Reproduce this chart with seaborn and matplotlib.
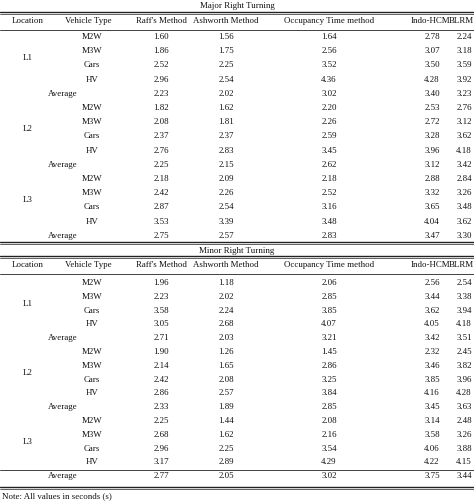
import matplotlib
matplotlib.use("Agg")
import matplotlib.pyplot as plt
import seaborn as sns

sns.set_style("white")
plt.rcParams['font.family'] = ['Liberation Serif', 'DejaVu Serif']

headers = ["Location", "Vehicle Type", "Raff's Method", "Ashworth Method", "Occupancy Time method", "Indo-HCM", "BLRM"]
locations = ["L1", "L2", "L3"]
vehicles = ["M2W", "M3W", "Cars", "HV"]

major_raff = [1.60, 1.86, 2.52, 2.96, 2.23, 1.82, 2.08, 2.37, 2.76, 2.25, 2.18, 2.42, 2.87, 3.53, 2.75]
major_ash = [1.56, 1.75, 2.25, 2.54, 2.02, 1.62, 1.81, 2.37, 2.83, 2.15, 2.09, 2.26, 2.54, 3.39, 2.57]
major_occ = [1.64, 2.56, 3.52, 4.36, 3.02, 2.20, 2.26, 2.59, 3.45, 2.62, 2.18, 2.52, 3.16, 3.48, 2.83]
major_hcm = [2.78, 3.07, 3.50, 4.28, 3.40, 2.53, 2.72, 3.28, 3.96, 3.12, 2.88, 3.32, 3.65, 4.04, 3.47]
major_blrm = [2.24, 3.18, 3.59, 3.92, 3.23, 2.76, 3.12, 3.62, 4.18, 3.42, 2.84, 3.26, 3.48, 3.62, 3.30]

minor_raff = [1.96, 2.23, 3.58, 3.05, 2.71, 1.90, 2.14, 2.42, 2.86, 2.33, 2.25, 2.68, 2.96, 3.17, 2.77]
minor_ash = [1.18, 2.02, 2.24, 2.68, 2.03, 1.26, 1.65, 2.08, 2.57, 1.89, 1.44, 1.62, 2.25, 2.89, 2.05]
minor_occ = [2.06, 2.85, 3.85, 4.07, 3.21, 1.45, 2.86, 3.25, 3.84, 2.85, 2.08, 2.16, 3.54, 4.29, 3.02]
minor_hcm = [2.56, 3.44, 3.62, 4.05, 3.42, 2.32, 3.46, 3.85, 4.16, 3.45, 3.14, 3.58, 4.06, 4.22, 3.75]
minor_blrm = [2.54, 3.38, 3.94, 4.18, 3.51, 2.45, 3.82, 3.96, 4.28, 3.63, 2.48, 3.26, 3.88, 4.15, 3.44]

W, H = 474, 501
fig = plt.figure(figsize=(W / 100, H / 100), dpi=100)
fig.patch.set_facecolor("white")

FS = 6.4

def T(x, y, s, ha="center", **kw):
    fig.text(x / W, 1 - y / H, s, ha=ha, va="center", fontsize=FS, color="#111111", **kw)

def L(y, lw=0.8):
    fig.add_artist(plt.Line2D([0, 1], [1 - y / H, 1 - y / H], color="#222222", lw=lw))

colx = [28, 92, 161, 226, 329, 432, 464]
hdrx = [28, 88, 161, 226, 329, 430, 461]

def block(title, ty, hline1, hy, hline2, y0, step, cols, last_line, bottom):
    T(237, ty, title)
    L(hline1, 1.0)
    L(hline1 + 2, 0.5)
    for x, h in zip(hdrx, headers):
        T(x, hy, h)
    L(hline2, 0.6)
    r = 0
    for li, loc in enumerate(locations):
        rows_here = []
        for v in vehicles:
            y = y0 + r * step
            T(colx[1], y, v)
            for c, vals in enumerate(cols):
                T(colx[2 + c], y, f"{vals[r]:.2f}")
            rows_here.append(y)
            r += 1
        T(colx[0], sum(rows_here) / 4, loc)
        y = y0 + r * step
        if last_line is not None and li == 2:
            L(last_line, 0.6)
        T(48, y, "Average", ha="left")
        for c, vals in enumerate(cols):
            T(colx[2 + c], y, f"{vals[r]:.2f}")
        r += 1
    L(bottom, 1.0)
    L(bottom + 2, 0.5)

block("Major Right Turning", 6, 12, 21, 30, 37, 14.2,
      [major_raff, major_ash, major_occ, major_hcm, major_blrm], None, 242)
block("Minor Right Turning", 251, 256, 265, 274, 283, 13.8,
      [minor_raff, minor_ash, minor_occ, minor_hcm, minor_blrm], 470, 487)
T(2, 496, "Note: All values in seconds (s)", ha="left")

fig.savefig("out.png", dpi=100, facecolor="white")
